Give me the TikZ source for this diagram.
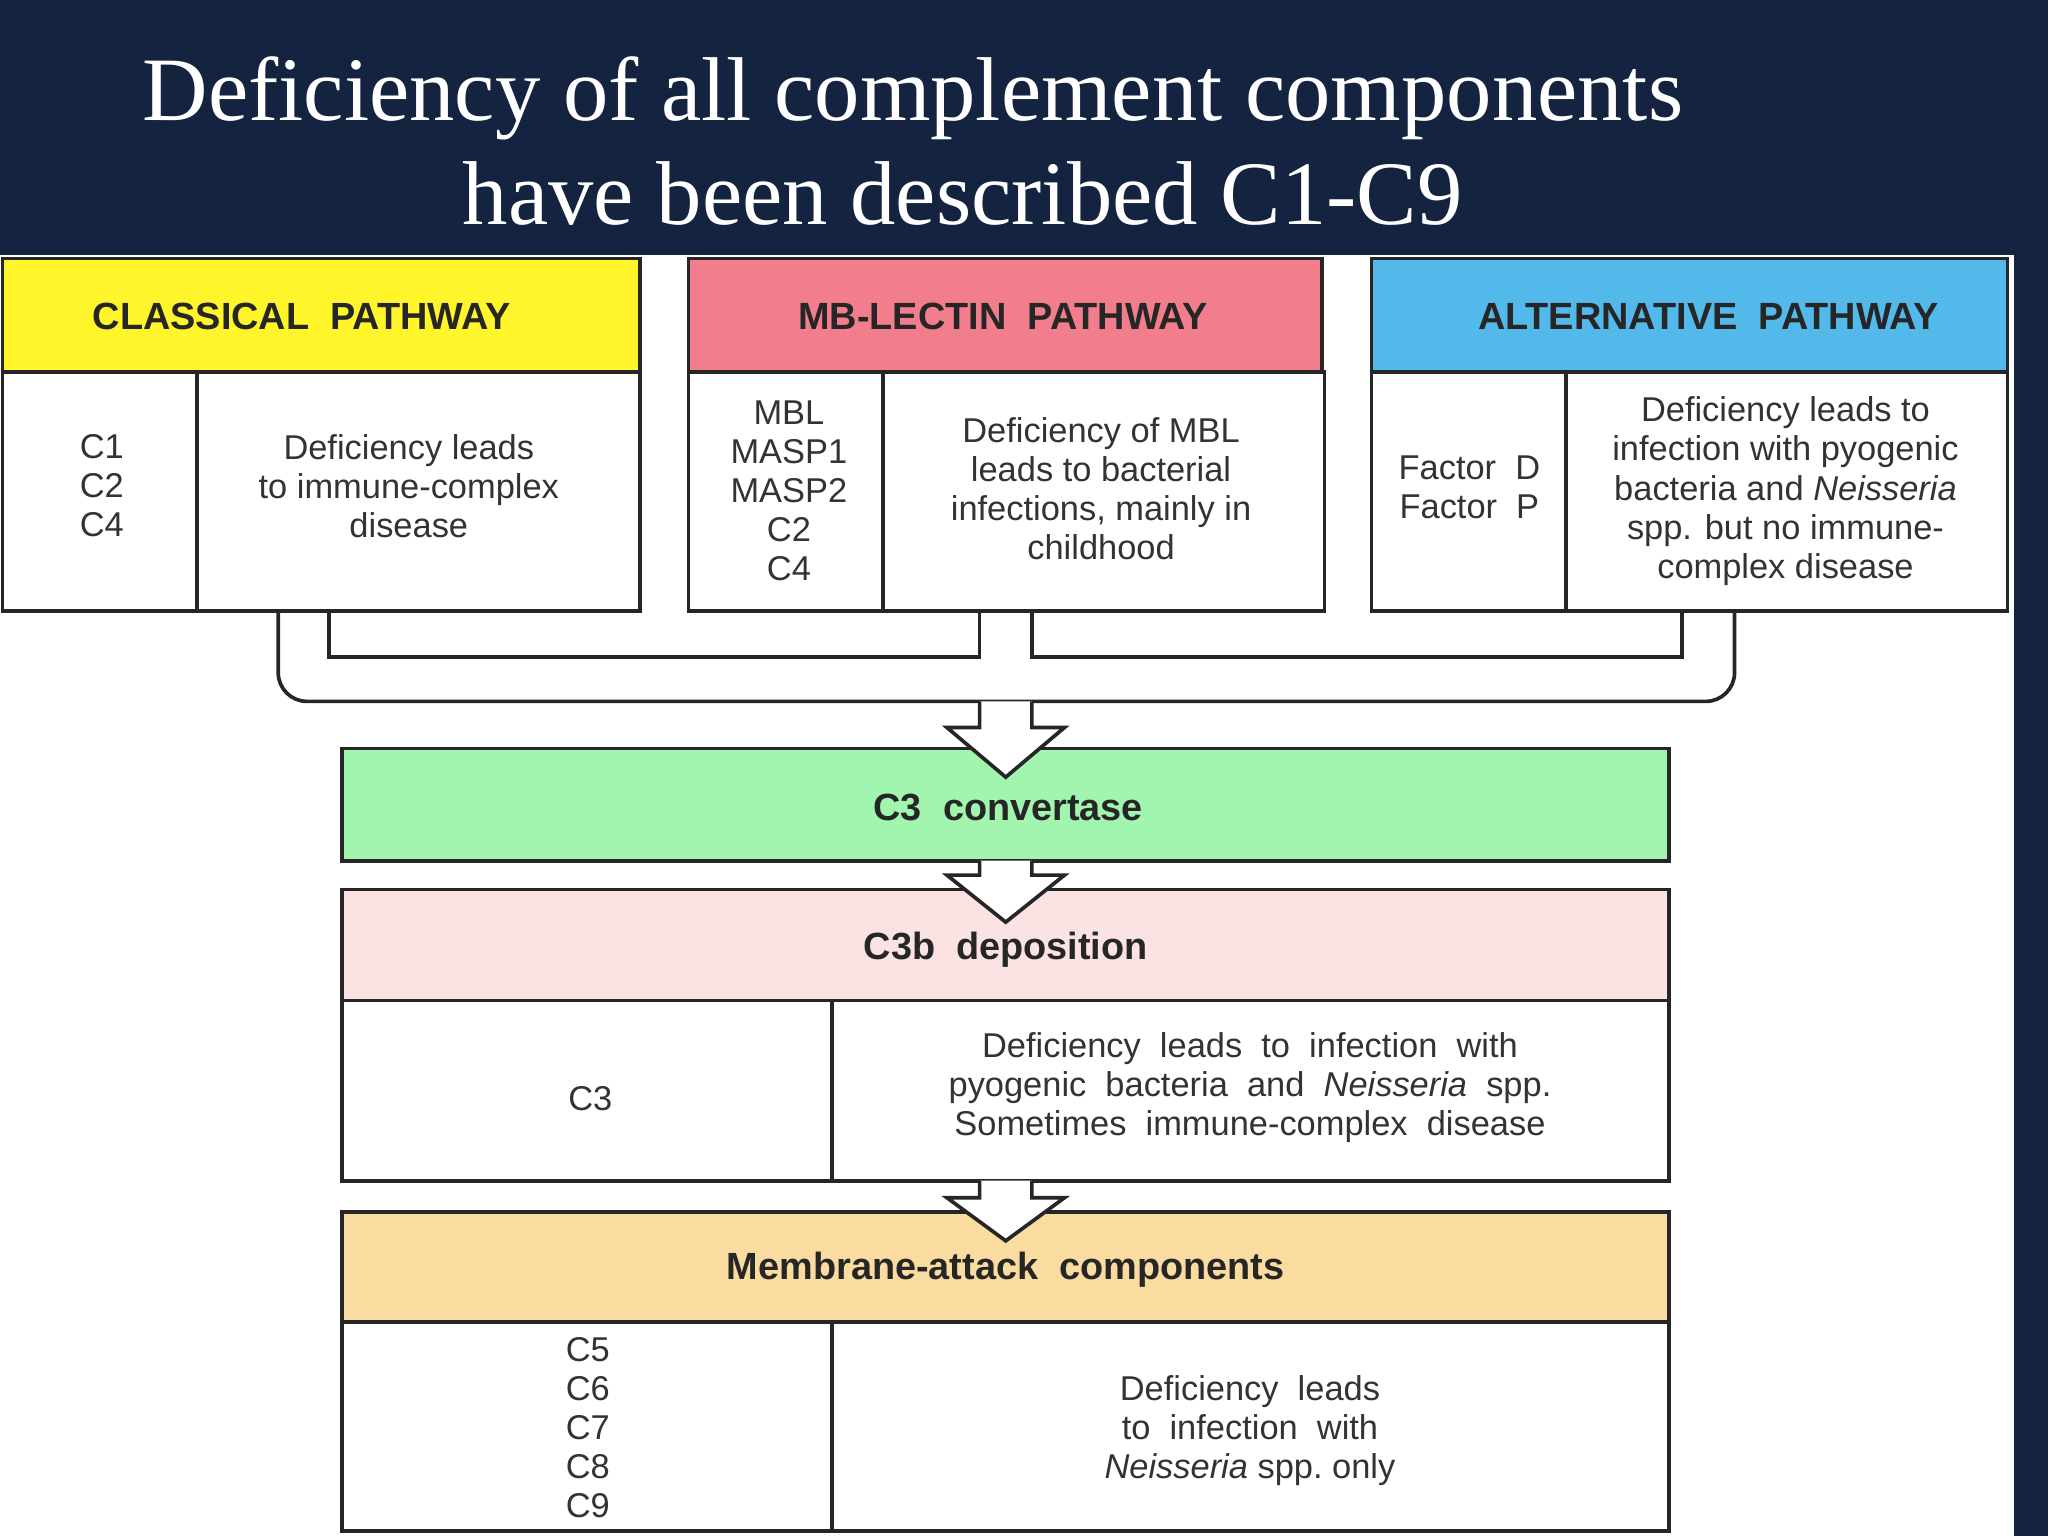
\documentclass[tikz,border=0pt]{standalone}
\usepackage{fontspec}
\setmainfont{Liberation Serif}
\setsansfont{Liberation Sans}
\begin{document}
\begin{tikzpicture}[x=0.02cm,y=-0.02cm,
  box/.style={draw=black!85,line width=1.6pt},
  txt/.style={font=\sffamily\fontsize{15}{17}\selectfont,text=black!80,align=center},
  hd/.style={font=\sffamily\bfseries\fontsize{16.5}{18}\selectfont,text=black!85,align=center},
  arr/.style={draw=black!85,line width=1.6pt,fill=white,line join=miter}]
\definecolor{navy}{HTML}{14233F}
\definecolor{cy}{HTML}{FFF52A}
\definecolor{cp}{HTML}{F17D8D}
\definecolor{cb}{HTML}{52B9EA}
\definecolor{cg}{HTML}{A2F5AE}
\definecolor{clp}{HTML}{FCE3E3}
\definecolor{co}{HTML}{FBDCA0}
\fill[navy] (0,0) rectangle (1568,1176);
\fill[white] (0,195) rectangle (1542,1176);
\node[text=white,font=\fontsize{39.5}{42}\selectfont] (t1) at (699,75) {Deficiency of all complement components};
\node[text=white,font=\fontsize{39.5}{42}\selectfont] (t2) at (737,148) {have been described C1-C9};
% classical
\draw[box,fill=cy] (2,198) rectangle (490,285);
\draw[box,fill=white] (2,285) rectangle (490,468);
\draw[box] (151,285) -- (151,468);
\node[hd] (ch) at (231,242) {CLASSICAL\ \ PATHWAY};
\node[txt] (c1) at (78,372) {C1\\C2\\C4};
\node[txt] (c2) at (313,372) {Deficiency leads\\to immune-complex\\disease};
% lectin
\draw[box,fill=cp] (527,198) rectangle (1012,285);
\draw[box,fill=white] (527,285) rectangle (1014,468);
\draw[box] (676,285) -- (676,468);
\node[hd] (lh) at (768,242) {MB-LECTIN\ \ PATHWAY};
\node[txt] (l1) at (604,376) {MBL\\MASP1\\MASP2\\C2\\C4};
\node[txt] (l2) at (843,374) {Deficiency of MBL\\leads to bacterial\\infections, mainly in\\childhood};
% alternative
\draw[box,fill=cb] (1050,198) rectangle (1537,285);
\draw[box,fill=white] (1050,285) rectangle (1537,468);
\draw[box] (1199,285) -- (1199,468);
\node[hd] (ah) at (1308,242) {ALTERNATIVE\ \ PATHWAY};
\node[txt] (a1) at (1125,373) {Factor\ \ D\\Factor\ \ P};
\node[txt] (a2) at (1367,376) {Deficiency leads to\\infection with pyogenic\\bacteria and \textit{Neisseria}\\spp. but no immune-\\complex disease};
% merging pipe
\draw[box,line cap=butt] (213,468) -- (213,515) arc[start angle=180,end angle=90,radius=22] -- (1306,537) arc[start angle=90,end angle=0,radius=22] -- (1328,468);
\draw[box] (252,468) -- (252,503) -- (750,503) -- (750,468);
\draw[box] (790,468) -- (790,503) -- (1288,503) -- (1288,468);
% C3 convertase
\draw[box,fill=cg] (262,573) rectangle (1278,659);
\node[hd] (cc) at (772,618) {C3\ \ convertase};
\draw[arr] (750,537) -- (750,557) -- (725,557) -- (770,595) -- (815,557) -- (790,557) -- (790,537);
% C3b
\draw[box,fill=clp] (262,681) rectangle (1278,766);
\draw[box,fill=white] (262,766) rectangle (1278,904);
\draw[box] (637,766) -- (637,904);
\node[hd] (bh) at (770,727) {C3b\ \ deposition};
\node[txt] (b1) at (452,841) {C3};
\node[txt] (b2) at (957,833) {Deficiency\ \ leads\ \ to\ \ infection\ \ with\\pyogenic\ \ bacteria\ \ and\ \ \textit{Neisseria}\ \ spp.\\Sometimes\ \ immune-complex\ \ disease};
\draw[arr] (750,659) -- (750,670) -- (725,670) -- (770,706) -- (815,670) -- (790,670) -- (790,659);
% MAC
\draw[box,fill=co] (262,928) rectangle (1278,1012);
\draw[box,fill=white] (262,1012) rectangle (1278,1172);
\draw[box] (637,1012) -- (637,1172);
\node[hd] (mh) at (770,972) {Membrane-attack\ \ components};
\node[txt] (m1) at (450,1093) {C5\\C6\\C7\\C8\\C9};
\node[txt] (m2) at (957,1095) {Deficiency\ \ leads\\to\ \ infection\ \ with\\\textit{Neisseria}\ spp.\ only};
\draw[arr] (750,904) -- (750,917) -- (725,917) -- (770,950) -- (815,917) -- (790,917) -- (790,904);
\end{tikzpicture}
\end{document}
